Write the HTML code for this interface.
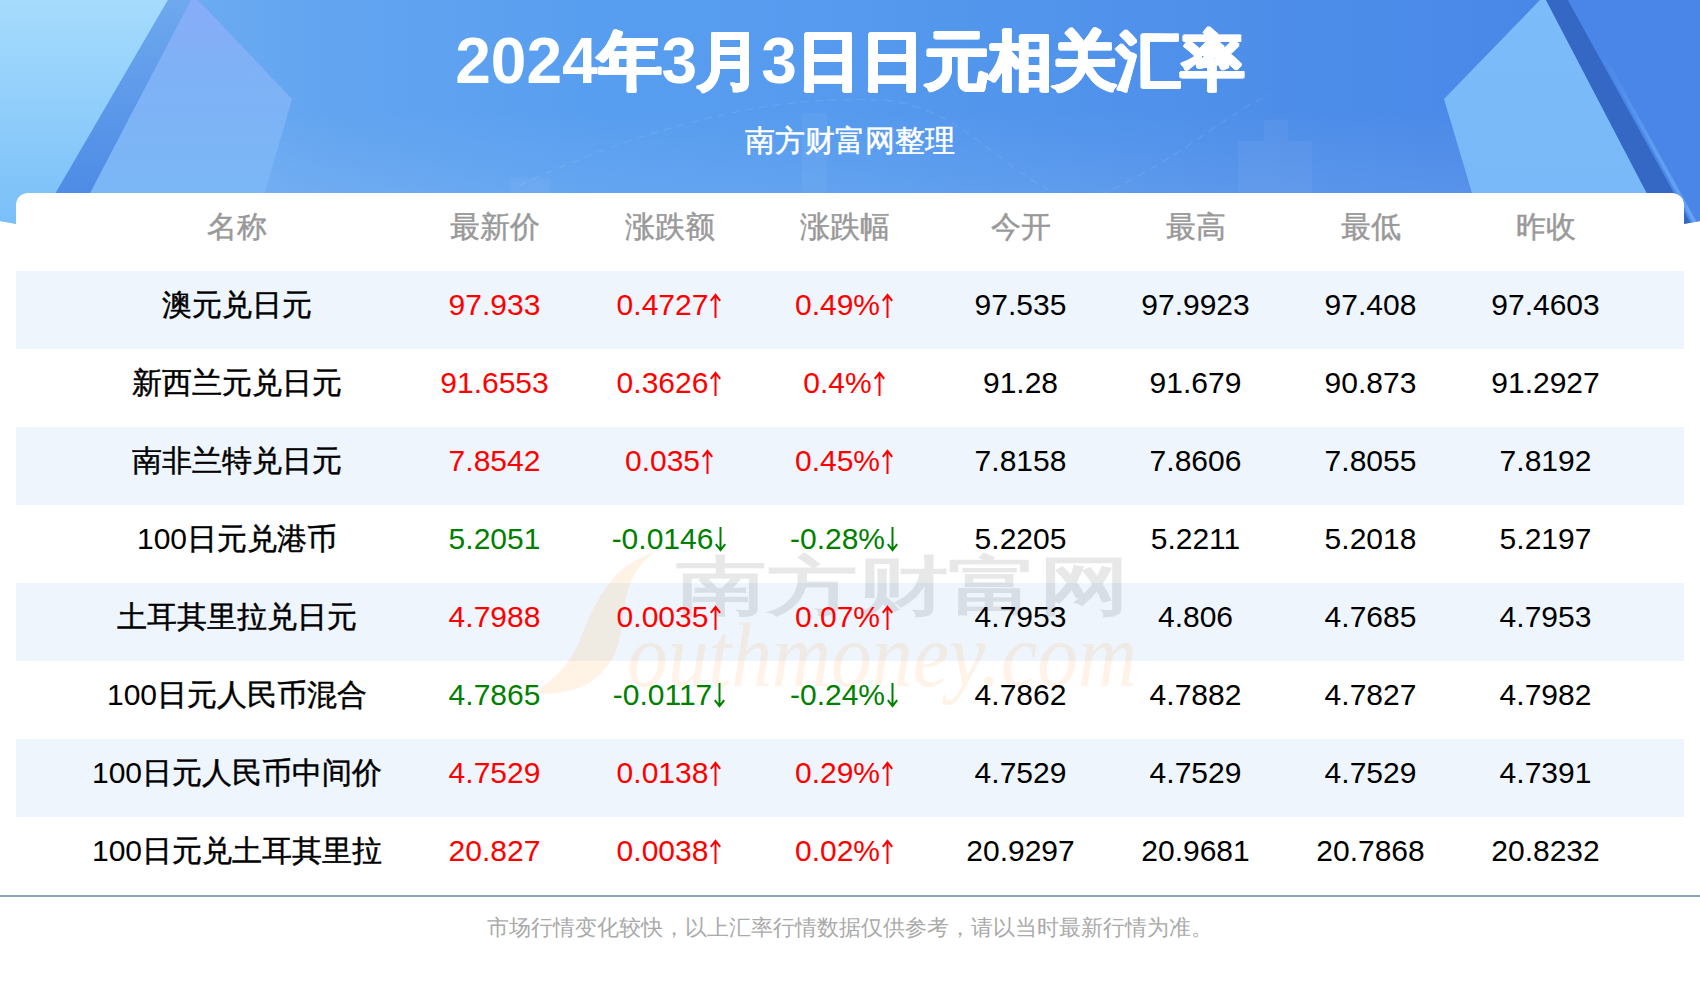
<!DOCTYPE html>
<html><head><meta charset="utf-8">
<style>
*{margin:0;padding:0;box-sizing:border-box}
html,body{width:1700px;height:1000px;overflow:hidden;background:#fff;font-family:"Liberation Sans",sans-serif}
#hdr{position:absolute;left:0;top:0;width:1700px;height:240px}
#title{position:absolute;left:0;top:21px;width:1700px;text-align:center;color:#fff;font-weight:bold;font-size:64px;line-height:80px;white-space:nowrap}
#sub{position:absolute;left:0;top:121px;width:1700px;text-align:center;color:#fff;font-size:30px;line-height:40px}
#card{position:absolute;left:16px;top:193px;width:1668px;height:702px;background:#fff;border-radius:12px 12px 0 0}
.row{position:absolute;left:16px;width:1668px;height:78px}
.row.b{background:#eef5fd}
.c{position:absolute;top:0;height:78px;line-height:68px;font-size:30px;text-align:center;white-space:nowrap;color:#000}
.hd .c{color:#999}
.c .k{-webkit-text-stroke:0.45px currentColor}
#sub .k{-webkit-text-stroke:0.5px #fff}
#title .k{-webkit-text-stroke:0.6px #fff;text-shadow:1.3px 0px 0 #fff,-1.3px 0px 0 #fff,0px 1.3px 0 #fff,0px -1.3px 0 #fff,0.92px 0.92px 0 #fff,-0.92px 0.92px 0 #fff,0.92px -0.92px 0 #fff,-0.92px -0.92px 0 #fff;position:relative;top:0px}
.r{color:#f00!important}.g{color:#008000!important}
.ar{display:inline-block;width:13px;height:25px;vertical-align:-3px;margin-left:1px}
#wm{position:absolute;left:0;top:0;width:1700px;height:1000px;pointer-events:none}
#line{position:absolute;left:0;top:895px;width:1700px;height:2px;background:#8aa2c4}
#foot{position:absolute;left:0;top:912px;width:1700px;text-align:center;font-size:22px;line-height:32px;color:#aaa}
</style></head><body>
<svg id="hdr" width="1700" height="240" viewBox="0 0 1700 240">
<defs>
<linearGradient id="gbase" x1="0" y1="0" x2="1700" y2="0" gradientUnits="userSpaceOnUse">
<stop offset="0" stop-color="#80c0f8"/>
<stop offset="0.12" stop-color="#6aaaf2"/>
<stop offset="0.2" stop-color="#62a4f0"/>
<stop offset="0.35" stop-color="#589ef0"/>
<stop offset="0.5" stop-color="#559aee"/>
<stop offset="0.72" stop-color="#4e8fea"/>
<stop offset="1" stop-color="#4784e6"/>
</linearGradient>
<linearGradient id="ghaze" x1="0" y1="0" x2="0" y2="1">
<stop offset="0" stop-color="#fff" stop-opacity="0"/>
<stop offset="1" stop-color="#fff" stop-opacity="0.12"/>
</linearGradient>
<linearGradient id="gl1" x1="0" y1="0" x2="0" y2="1">
<stop offset="0" stop-color="#a6dcfd"/>
<stop offset="1" stop-color="#78bef8"/>
</linearGradient>
<linearGradient id="gs1" x1="0" y1="0" x2="0" y2="1">
<stop offset="0" stop-color="#6ea8ee"/>
<stop offset="1" stop-color="#4786e4"/>
</linearGradient>
<linearGradient id="gp1" x1="0" y1="0" x2="0" y2="1">
<stop offset="0" stop-color="#88acf8"/>
<stop offset="0.35" stop-color="#7eb2f6"/>
<stop offset="1" stop-color="#7ab8f6"/>
</linearGradient>
<linearGradient id="gp2" x1="0" y1="0" x2="0" y2="1">
<stop offset="0" stop-color="#7cbcfa"/>
<stop offset="1" stop-color="#78b8f8"/>
</linearGradient>
<clipPath id="cl"><path d="M0,0H1700V221Q850,380 0,221Z"/></clipPath>
</defs>
<g clip-path="url(#cl)">
<rect x="0" y="0" width="1700" height="240" fill="url(#gbase)"/>
<rect x="0" y="110" width="1700" height="130" fill="url(#ghaze)"/>
<g fill="#fff" fill-opacity="0.045">
<rect x="802" y="113" width="25" height="130"/>
<rect x="1264" y="120" width="24" height="21"/>
<rect x="1238" y="141" width="74" height="100"/>
<rect x="510" y="178" width="40" height="60"/>
</g>
<path d="M520,185 C640,130 760,95 880,100 C960,105 1000,170 1060,195 M1100,195 C1180,160 1230,110 1270,95" fill="none" stroke="#fff" stroke-opacity="0.08" stroke-width="1.5" stroke-dasharray="8 6"/>
<polygon points="0,0 168,0 34,230 0,230" fill="url(#gl1)"/>
<polygon points="168,0 191,0 71,230 34,230" fill="url(#gs1)"/>
<polygon points="191,0 198,0 292,99 254,230 71,230" fill="url(#gp1)"/>
<polygon points="1540,0 1546,0 1666,230 1483,230 1472,193 1444,99" fill="url(#gp2)"/>
<polygon points="1546,0 1568,0 1700,240 1700,250 1666,230" fill="#3468c4"/>
<polygon points="1568,0 1700,0 1700,240" fill="#4986e8"/>
<linearGradient id="ghl" x1="0" y1="0" x2="0" y2="1"><stop offset="0" stop-color="#6aaaf4" stop-opacity="0"/><stop offset="0.5" stop-color="#6aaaf4" stop-opacity="0.6"/><stop offset="1" stop-color="#6aaaf4" stop-opacity="0.9"/></linearGradient>
<polygon points="1598,50 1602,50 1700,228 1700,236" fill="url(#ghl)"/>
</g>
</svg>
<div id="title">2024<span class="k">年</span>3<span class="k">月</span>3<span class="k">日日元相关汇率</span></div>
<div id="sub"><span class="k">南方财富网整理</span></div>
<div id="card"></div>
<div class="row b" style="top:271px"></div>
<div class="row b" style="top:427px"></div>
<div class="row b" style="top:583px"></div>
<div class="row b" style="top:739px"></div>
<svg id="wm" width="1700" height="1000" viewBox="0 0 1700 1000">
<path d="M691,544 C668,545 640,555 621,570 C610,580 600,596 592,611 C586,622 583,634 578,645 C570,662 555,680 534,692 C545,696 565,693 581,687 C598,680 611,665 617,648 C622,633 623,614 626,598 C630,578 640,562 657,550 C668,546 680,544 691,544 Z" fill="#f5a030" fill-opacity="0.13"/>
<text x="676" y="608" font-family="Liberation Serif, serif" font-weight="bold" font-size="64" textLength="454" lengthAdjust="spacingAndGlyphs" fill="#000" fill-opacity="0.09">南方财富网</text>
<text x="627" y="686" font-family="Liberation Serif, serif" font-style="italic" font-size="92" textLength="510" lengthAdjust="spacingAndGlyphs" fill="#f5a030" fill-opacity="0.12">outhmoney.com</text>
</svg>

<div class="row hd" style="top:193px"><div class="c" style="left:51.0px;width:340px"><span class="k">名称</span></div><div class="c" style="left:393.5px;width:170px"><span class="k">最新价</span></div><div class="c" style="left:568.5px;width:170px"><span class="k">涨跌额</span></div><div class="c" style="left:743.5px;width:170px"><span class="k">涨跌幅</span></div><div class="c" style="left:919.5px;width:170px"><span class="k">今开</span></div><div class="c" style="left:1094.5px;width:170px"><span class="k">最高</span></div><div class="c" style="left:1269.5px;width:170px"><span class="k">最低</span></div><div class="c" style="left:1444.5px;width:170px"><span class="k">昨收</span></div></div>
<div class="row" style="top:271px"><div class="c" style="left:51.0px;width:340px"><span class="k">澳元兑日元</span></div><div class="c r" style="left:393.5px;width:170px">97.933</div><div class="c r" style="left:568.5px;width:170px">0.4727<svg class="ar" viewBox="0 0 13 25"><path d="M6.5,2.5V25M1.8,7.8L6.5,1.8L11.2,7.8" fill="none" stroke="currentColor" stroke-width="2"/></svg></div><div class="c r" style="left:743.5px;width:170px">0.49%<svg class="ar" viewBox="0 0 13 25"><path d="M6.5,2.5V25M1.8,7.8L6.5,1.8L11.2,7.8" fill="none" stroke="currentColor" stroke-width="2"/></svg></div><div class="c" style="left:919.5px;width:170px">97.535</div><div class="c" style="left:1094.5px;width:170px">97.9923</div><div class="c" style="left:1269.5px;width:170px">97.408</div><div class="c" style="left:1444.5px;width:170px">97.4603</div></div>
<div class="row" style="top:349px"><div class="c" style="left:51.0px;width:340px"><span class="k">新西兰元兑日元</span></div><div class="c r" style="left:393.5px;width:170px">91.6553</div><div class="c r" style="left:568.5px;width:170px">0.3626<svg class="ar" viewBox="0 0 13 25"><path d="M6.5,2.5V25M1.8,7.8L6.5,1.8L11.2,7.8" fill="none" stroke="currentColor" stroke-width="2"/></svg></div><div class="c r" style="left:743.5px;width:170px">0.4%<svg class="ar" viewBox="0 0 13 25"><path d="M6.5,2.5V25M1.8,7.8L6.5,1.8L11.2,7.8" fill="none" stroke="currentColor" stroke-width="2"/></svg></div><div class="c" style="left:919.5px;width:170px">91.28</div><div class="c" style="left:1094.5px;width:170px">91.679</div><div class="c" style="left:1269.5px;width:170px">90.873</div><div class="c" style="left:1444.5px;width:170px">91.2927</div></div>
<div class="row" style="top:427px"><div class="c" style="left:51.0px;width:340px"><span class="k">南非兰特兑日元</span></div><div class="c r" style="left:393.5px;width:170px">7.8542</div><div class="c r" style="left:568.5px;width:170px">0.035<svg class="ar" viewBox="0 0 13 25"><path d="M6.5,2.5V25M1.8,7.8L6.5,1.8L11.2,7.8" fill="none" stroke="currentColor" stroke-width="2"/></svg></div><div class="c r" style="left:743.5px;width:170px">0.45%<svg class="ar" viewBox="0 0 13 25"><path d="M6.5,2.5V25M1.8,7.8L6.5,1.8L11.2,7.8" fill="none" stroke="currentColor" stroke-width="2"/></svg></div><div class="c" style="left:919.5px;width:170px">7.8158</div><div class="c" style="left:1094.5px;width:170px">7.8606</div><div class="c" style="left:1269.5px;width:170px">7.8055</div><div class="c" style="left:1444.5px;width:170px">7.8192</div></div>
<div class="row" style="top:505px"><div class="c" style="left:51.0px;width:340px">100<span class="k">日元兑港币</span></div><div class="c g" style="left:393.5px;width:170px">5.2051</div><div class="c g" style="left:568.5px;width:170px">-0.0146<svg class="ar" viewBox="0 0 13 25"><path d="M6.5,0V22.5M1.8,17.2L6.5,23.2L11.2,17.2" fill="none" stroke="currentColor" stroke-width="2"/></svg></div><div class="c g" style="left:743.5px;width:170px">-0.28%<svg class="ar" viewBox="0 0 13 25"><path d="M6.5,0V22.5M1.8,17.2L6.5,23.2L11.2,17.2" fill="none" stroke="currentColor" stroke-width="2"/></svg></div><div class="c" style="left:919.5px;width:170px">5.2205</div><div class="c" style="left:1094.5px;width:170px">5.2211</div><div class="c" style="left:1269.5px;width:170px">5.2018</div><div class="c" style="left:1444.5px;width:170px">5.2197</div></div>
<div class="row" style="top:583px"><div class="c" style="left:51.0px;width:340px"><span class="k">土耳其里拉兑日元</span></div><div class="c r" style="left:393.5px;width:170px">4.7988</div><div class="c r" style="left:568.5px;width:170px">0.0035<svg class="ar" viewBox="0 0 13 25"><path d="M6.5,2.5V25M1.8,7.8L6.5,1.8L11.2,7.8" fill="none" stroke="currentColor" stroke-width="2"/></svg></div><div class="c r" style="left:743.5px;width:170px">0.07%<svg class="ar" viewBox="0 0 13 25"><path d="M6.5,2.5V25M1.8,7.8L6.5,1.8L11.2,7.8" fill="none" stroke="currentColor" stroke-width="2"/></svg></div><div class="c" style="left:919.5px;width:170px">4.7953</div><div class="c" style="left:1094.5px;width:170px">4.806</div><div class="c" style="left:1269.5px;width:170px">4.7685</div><div class="c" style="left:1444.5px;width:170px">4.7953</div></div>
<div class="row" style="top:661px"><div class="c" style="left:51.0px;width:340px">100<span class="k">日元人民币混合</span></div><div class="c g" style="left:393.5px;width:170px">4.7865</div><div class="c g" style="left:568.5px;width:170px">-0.0117<svg class="ar" viewBox="0 0 13 25"><path d="M6.5,0V22.5M1.8,17.2L6.5,23.2L11.2,17.2" fill="none" stroke="currentColor" stroke-width="2"/></svg></div><div class="c g" style="left:743.5px;width:170px">-0.24%<svg class="ar" viewBox="0 0 13 25"><path d="M6.5,0V22.5M1.8,17.2L6.5,23.2L11.2,17.2" fill="none" stroke="currentColor" stroke-width="2"/></svg></div><div class="c" style="left:919.5px;width:170px">4.7862</div><div class="c" style="left:1094.5px;width:170px">4.7882</div><div class="c" style="left:1269.5px;width:170px">4.7827</div><div class="c" style="left:1444.5px;width:170px">4.7982</div></div>
<div class="row" style="top:739px"><div class="c" style="left:51.0px;width:340px">100<span class="k">日元人民币中间价</span></div><div class="c r" style="left:393.5px;width:170px">4.7529</div><div class="c r" style="left:568.5px;width:170px">0.0138<svg class="ar" viewBox="0 0 13 25"><path d="M6.5,2.5V25M1.8,7.8L6.5,1.8L11.2,7.8" fill="none" stroke="currentColor" stroke-width="2"/></svg></div><div class="c r" style="left:743.5px;width:170px">0.29%<svg class="ar" viewBox="0 0 13 25"><path d="M6.5,2.5V25M1.8,7.8L6.5,1.8L11.2,7.8" fill="none" stroke="currentColor" stroke-width="2"/></svg></div><div class="c" style="left:919.5px;width:170px">4.7529</div><div class="c" style="left:1094.5px;width:170px">4.7529</div><div class="c" style="left:1269.5px;width:170px">4.7529</div><div class="c" style="left:1444.5px;width:170px">4.7391</div></div>
<div class="row" style="top:817px"><div class="c" style="left:51.0px;width:340px">100<span class="k">日元兑土耳其里拉</span></div><div class="c r" style="left:393.5px;width:170px">20.827</div><div class="c r" style="left:568.5px;width:170px">0.0038<svg class="ar" viewBox="0 0 13 25"><path d="M6.5,2.5V25M1.8,7.8L6.5,1.8L11.2,7.8" fill="none" stroke="currentColor" stroke-width="2"/></svg></div><div class="c r" style="left:743.5px;width:170px">0.02%<svg class="ar" viewBox="0 0 13 25"><path d="M6.5,2.5V25M1.8,7.8L6.5,1.8L11.2,7.8" fill="none" stroke="currentColor" stroke-width="2"/></svg></div><div class="c" style="left:919.5px;width:170px">20.9297</div><div class="c" style="left:1094.5px;width:170px">20.9681</div><div class="c" style="left:1269.5px;width:170px">20.7868</div><div class="c" style="left:1444.5px;width:170px">20.8232</div></div>
<div id="line"></div>
<div id="foot">市场行情变化较快，以上汇率行情数据仅供参考，请以当时最新行情为准。</div>
</body></html>
